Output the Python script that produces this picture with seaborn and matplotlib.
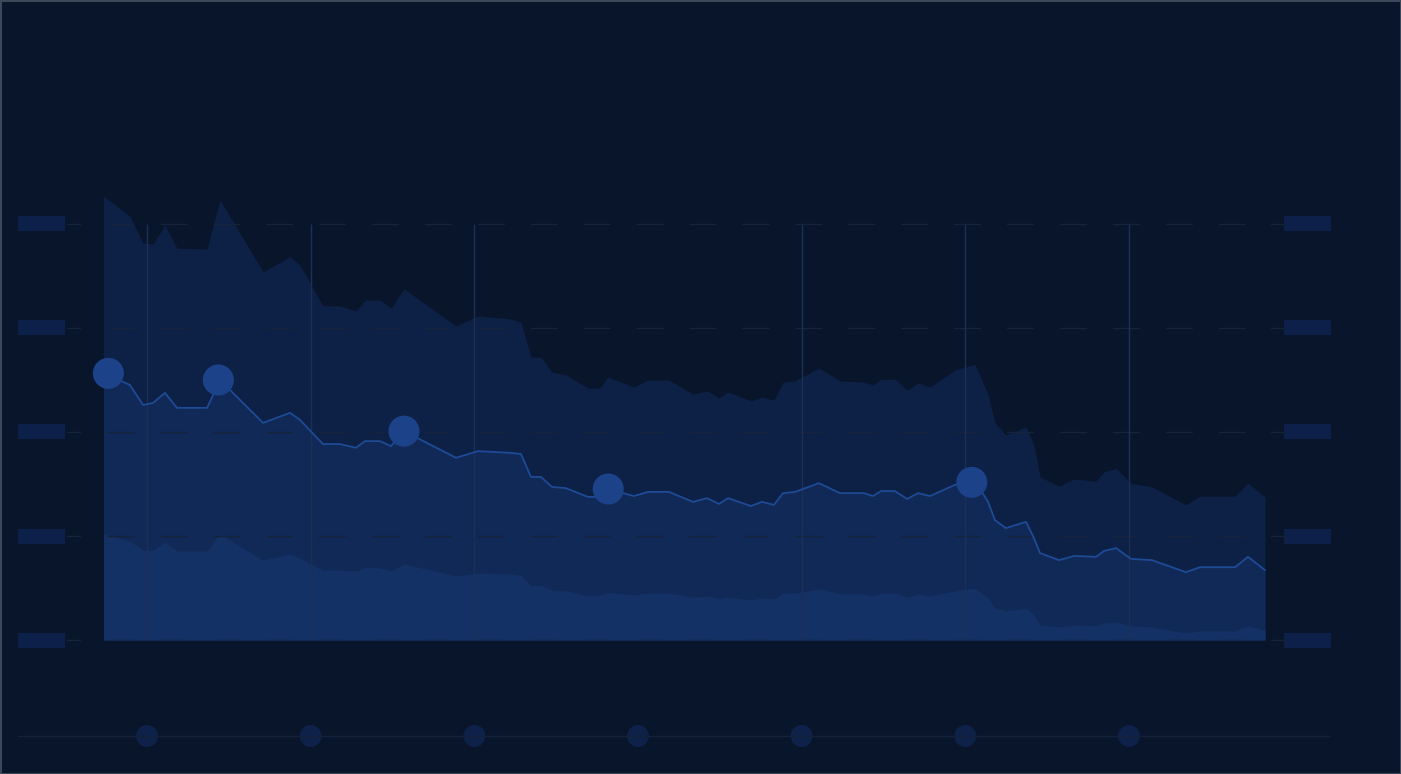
import numpy as np
import pandas as pd
import seaborn as sns
import matplotlib
matplotlib.use("Agg")
import matplotlib.pyplot as plt
from matplotlib.patches import Rectangle
from matplotlib.lines import Line2D
import matplotlib.transforms as mtransforms

# ---------------- data ----------------
x_pos = [0.734, 0.896, 0.976, 1.037, 1.110, 1.183, 1.367, 1.446, 1.709, 1.874,
         1.935, 2.075, 2.179, 2.277, 2.332, 2.424, 2.491, 2.570, 2.888, 3.022,
         3.218, 3.285, 3.346, 3.407, 3.474, 3.560, 3.694, 3.768, 3.816, 3.975,
         4.061, 4.189, 4.336, 4.422, 4.495, 4.550, 4.690, 4.757, 4.831, 4.886,
         4.959, 5.105, 5.234, 5.381, 5.436, 5.485, 5.570, 5.644, 5.711, 5.784,
         5.937, 6.059, 6.139, 6.181, 6.248, 6.371, 6.419, 6.456, 6.572, 6.664,
         6.798, 6.847, 6.921, 7.012, 7.140, 7.348, 7.434, 7.648, 7.727, 7.831]

total_vals = [106.7, 101.9, 95.4, 95.2, 99.8, 94.2, 94.0, 105.8, 88.5, 92.1,
              90.1, 80.3, 80.3, 79.1, 81.7, 81.7, 79.8, 84.4, 75.5, 77.9,
              77.2, 76.4, 68.0, 68.0, 64.4, 63.7, 60.6, 60.6, 63.2, 60.8,
              62.5, 62.5, 59.1, 59.9, 58.2, 59.6, 57.5, 58.4, 57.7, 62.0,
              62.3, 65.4, 62.3, 62.0, 61.3, 62.7, 62.7, 60.1, 61.8, 60.8,
              64.9, 66.3, 58.9, 52.2, 49.3, 51.2, 46.9, 39.2, 37.0, 38.7,
              38.2, 40.4, 41.3, 37.7, 36.8, 32.5, 34.6, 34.6, 37.7, 34.4]

middle_vals = [64.2, 61.3, 56.5, 57.0, 59.4, 55.8, 55.8, 62.5, 52.2, 54.6,
               52.9, 47.1, 47.1, 46.2, 47.8, 47.8, 46.6, 50.2, 43.8, 45.4,
               45.0, 44.7, 39.2, 39.2, 36.8, 36.5, 34.4, 34.4, 36.3, 34.6,
               35.6, 35.6, 33.2, 34.1, 32.7, 34.1, 32.2, 33.2, 32.5, 35.3,
               35.6, 37.7, 35.3, 35.3, 34.6, 35.8, 35.8, 33.9, 35.3, 34.6,
               37.3, 38.2, 33.2, 28.8, 26.9, 28.4, 24.5, 20.9, 19.2, 20.2,
               20.0, 21.4, 22.1, 19.5, 19.2, 16.3, 17.5, 17.5, 20.0, 16.8]

lower_vals = [25.5, 23.8, 21.6, 21.6, 23.6, 21.4, 21.4, 25.5, 19.2, 20.7,
              19.7, 16.8, 16.8, 16.6, 17.5, 17.3, 16.6, 18.3, 15.4, 16.1,
              15.9, 15.6, 13.0, 13.2, 12.0, 11.8, 10.6, 10.8, 11.5, 10.8,
              11.3, 11.3, 10.3, 10.6, 9.9, 10.3, 9.6, 10.1, 9.9, 11.3,
              11.3, 12.3, 11.1, 11.1, 10.6, 11.3, 11.3, 10.3, 11.1, 10.6,
              11.8, 12.5, 10.1, 7.7, 7.0, 7.7, 6.0, 3.6, 3.1, 3.6,
              3.4, 4.1, 4.3, 3.4, 3.1, 1.7, 2.2, 2.2, 3.4, 2.4]

highlight_x = [0.764, 1.436, 2.570, 3.818, 6.039]
highlight_y = [64.1, 62.5, 50.2, 36.3, 37.9]

x_ticks = [1, 2, 3, 4, 5, 6, 7]
vgrid_ticks = [1, 2, 3, 5, 6, 7]
y_ticks = [0, 25, 50, 75, 100]

df = pd.DataFrame({"x": x_pos, "total": total_vals,
                   "middle": middle_vals, "lower": lower_vals})
hl = pd.DataFrame({"x": highlight_x, "y": highlight_y})

# ---------------- styling ----------------
BG = "#09152a"
C_TOP = "#0d2046"
C_MID = "#112957"
C_LOW = "#133164"
C_LINE = "#1e4b95"
C_DOT = "#1c438a"
C_PH = "#0c2049"
C_GRID = "#15233b"
C_VGRID = "#1c3055"

sns.set_theme(style="dark", rc={"axes.facecolor": BG, "figure.facecolor": BG})

W, H = 1401, 774
fig = plt.figure(figsize=(W / 100, H / 100), dpi=100)
fig.patch.set_facecolor(BG)
fig.patch.set_edgecolor("#3d475a")
fig.patch.set_linewidth(2)

ax_l, ax_r, ax_b, ax_t = 80, 1271, 640, 182.4
ax = fig.add_axes([ax_l / W, (H - ax_b) / H, (ax_r - ax_l) / W, (ax_b - ax_t) / H])
ax.set_facecolor(BG)
ax.set_xlim(0.5906, 7.8675)
ax.set_ylim(0, 110)
for s in ax.spines.values():
    s.set_visible(False)
ax.set_xticks([])
ax.set_yticks([])
ax.grid(False)

# stacked areas (cumulative boundaries)
ax.fill_between(df["x"], 0, df["total"], color=C_TOP, lw=0, zorder=1)
ax.fill_between(df["x"], 0, df["middle"], color=C_MID, lw=0, zorder=2)
ax.fill_between(df["x"], 0, df["lower"], color=C_LOW, lw=0, zorder=3)

# horizontal dashed grid lines
px_per_x = (ax_r - ax_l) / (7.8675 - 0.5906)
gx0 = 0.5906 + (107 - ax_l) / px_per_x
gx1 = 7.8675 - 1 / px_per_x
for yv in y_ticks:
    ax.plot([gx0, gx1], [yv, yv], color=C_GRID, lw=1,
            dashes=(19.4, 18.7), zorder=4, solid_capstyle="butt")

# vertical grid lines
ax.vlines(vgrid_ticks, 0, 100, color=C_VGRID, lw=1, zorder=5)

# middle boundary line
sns.lineplot(data=df, x="x", y="middle", ax=ax, color=C_LINE, lw=1.3,
             zorder=6, legend=False, solid_joinstyle="round")
ax.set_xlabel("")
ax.set_ylabel("")

# highlighted points
sns.scatterplot(data=hl, x="x", y="y", ax=ax, s=500, color=C_DOT,
                edgecolor="none", zorder=7, legend=False)
ax.set_xlabel("")
ax.set_ylabel("")

# tick marks (outside, left & right)
blend_fx = mtransforms.blended_transform_factory(fig.transFigure, ax.transData)
for yv in y_ticks:
    ax.add_line(Line2D([67 / W, 80 / W], [yv, yv], transform=blend_fx,
                       color=C_GRID, lw=1, clip_on=False))
    ax.add_line(Line2D([1271 / W, 1283 / W], [yv, yv], transform=blend_fx,
                       color=C_GRID, lw=1, clip_on=False))
    # placeholder tick labels
    hh = 15 / 4.16
    ax.add_patch(Rectangle((18 / W, yv - hh / 2), 47 / W, hh, transform=blend_fx,
                           color=C_PH, lw=0, clip_on=False))
    ax.add_patch(Rectangle((1284 / W, yv - hh / 2), 47 / W, hh, transform=blend_fx,
                           color=C_PH, lw=0, clip_on=False))

# bottom track line with placeholder x tick dots
fig.add_artist(Line2D([18 / W, 1330 / W], [(H - 736) / H] * 2,
                      transform=fig.transFigure, color="#14213a", lw=1))
blend_xf = mtransforms.blended_transform_factory(ax.transData, fig.transFigure)
ax.scatter(x_ticks, [(H - 736) / H] * len(x_ticks), transform=blend_xf,
           s=250, color="#0e2148", edgecolor="none", clip_on=False, zorder=8)

fig.savefig("out.png", dpi=100, facecolor=BG, edgecolor=fig.patch.get_edgecolor())
